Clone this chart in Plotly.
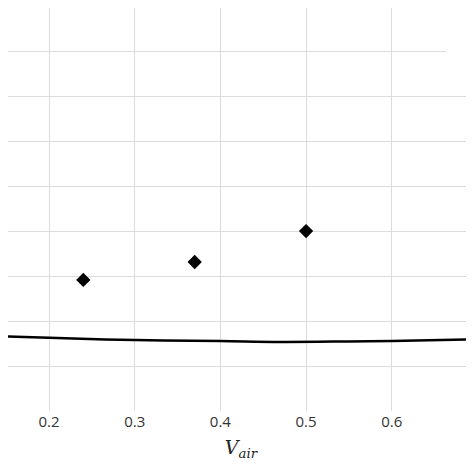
import plotly.graph_objects as go

# measured points (diamonds)
v_air_meas = [0.24, 0.37, 0.50]
val_meas = [2.92, 3.32, 4.01]

# model curve
v_air_model = [0.14, 0.2, 0.3, 0.4, 0.47, 0.55, 0.6, 0.7]
val_model = [1.67, 1.63, 1.58, 1.56, 1.54, 1.55, 1.56, 1.60]

fig = go.Figure()
fig.add_trace(go.Scatter(
    x=v_air_model, y=val_model, mode='lines',
    line=dict(color='black', width=2.5, shape='spline'), showlegend=False
))
fig.add_trace(go.Scatter(
    x=v_air_meas, y=val_meas, mode='markers',
    marker=dict(symbol='diamond', color='black', size=11), showlegend=False
))

# legend area (cut off in the crop) hides the top gridlines on the right
fig.add_shape(type='rect', xref='paper', yref='paper', x0=0.94, x1=1.0, y0=0.83, y1=1.0,
              fillcolor='white', line=dict(width=0), layer='above')
fig.add_shape(type='line', xref='paper', yref='paper', x0=0.99, x1=1.0, y0=0.85, y1=0.85,
              line=dict(color='#888', width=1), layer='above')

fig.update_layout(
    width=466, height=466,
    paper_bgcolor='white', plot_bgcolor='white',
    margin=dict(l=0, r=0, t=0, b=63, pad=0),
    font=dict(family='Open Sans', color='#333'),
    xaxis=dict(
        range=[0.1521, 0.696], dtick=0.1, tick0=0.2,
        showgrid=True, gridcolor='#dcdcdc', gridwidth=1.3, zeroline=False,
        tickfont=dict(size=15, color='#333'), ticks='',
        title=dict(text='<i>V<sub>air</sub></i>', font=dict(family='DejaVu Serif', size=19, color='#222'),
                   standoff=10),
    ),
    yaxis=dict(
        range=[0, 8.98], dtick=1, showgrid=True, gridcolor='#dcdcdc', gridwidth=1.3,
        zeroline=False, showticklabels=False,
    ),
)

fig.write_html("out.html")
